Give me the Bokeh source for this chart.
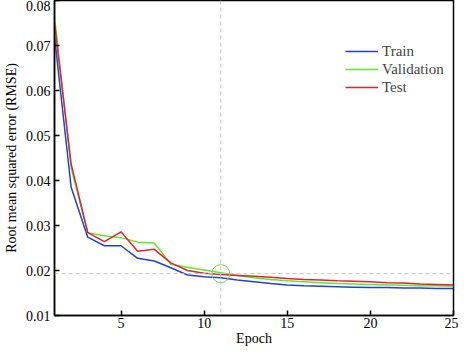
from bokeh.plotting import figure
from bokeh.models import Span, Legend, LegendItem, FixedTicker, Range1d
from bokeh.embed import file_html
from bokeh.resources import INLINE

epochs = list(range(1, 26))
train = [0.0720, 0.0385, 0.0274, 0.0255, 0.0255, 0.0227, 0.0221, 0.0206, 0.0190, 0.0186,
         0.0184, 0.0179, 0.0175, 0.0171, 0.0168, 0.0166, 0.0165, 0.0164, 0.0163, 0.0162,
         0.0162, 0.0161, 0.0161, 0.0160, 0.0160]
validation = [0.0765, 0.0428, 0.0284, 0.0277, 0.0273, 0.0263, 0.0261, 0.0214, 0.0207, 0.0201,
              0.0195, 0.0189, 0.0184, 0.0180, 0.0177, 0.0175, 0.0173, 0.0171, 0.0170, 0.0169,
              0.0168, 0.0167, 0.0166, 0.0166, 0.0165]
test = [0.0750, 0.0437, 0.0284, 0.0264, 0.0286, 0.0243, 0.0247, 0.0217, 0.0200, 0.0194,
        0.0191, 0.0189, 0.0187, 0.0185, 0.0182, 0.0180, 0.0179, 0.0177, 0.0176, 0.0175,
        0.0173, 0.0172, 0.0170, 0.0169, 0.0168]
best_epoch = 11
best_value = 0.0193
x_ticks = [5, 10, 15, 20, 25]
y_ticks = [0.01, 0.02, 0.03, 0.04, 0.05, 0.06, 0.07, 0.08]
y_tick_labels = ["0.01", "0.02", "0.03", "0.04", "0.05", "0.06", "0.07", "0.08"]
x_title = "Epoch"
y_title = "Root mean squared error (RMSE)"

FONT = "Liberation Serif"

p = figure(width=458, height=348, output_backend="svg", toolbar_location=None,
           x_range=Range1d(1, 25), y_range=Range1d(0.01, 0.08),
           min_border_left=43, min_border_right=5, min_border_top=0, min_border_bottom=0)
p.grid.visible = False
p.outline_line_color = "black"
p.outline_line_width = 1.5
p.background_fill_color = "white"
p.border_fill_color = "white"

for ax in (p.xaxis[0], p.yaxis[0]):
    ax.major_tick_in = 5
    ax.major_tick_out = 0
    ax.minor_tick_line_color = None
    ax.axis_line_color = "black"
    ax.axis_line_width = 1.5
    ax.major_tick_line_width = 1.5
    ax.major_label_text_font = FONT
    ax.major_label_text_font_size = "14px"
    ax.major_label_text_color = "black"
    ax.major_label_text_line_height = 1.0
    ax.axis_label_text_font = FONT
    ax.axis_label_text_font_size = "14px"
    ax.axis_label_text_font_style = "normal"
    ax.axis_label_text_color = "black"
    ax.axis_label_text_line_height = 1.0

p.xaxis.ticker = FixedTicker(ticks=x_ticks)
p.xaxis.axis_label = x_title
p.xaxis.major_label_standoff = 2
p.xaxis.axis_label_standoff = 0
p.yaxis.ticker = FixedTicker(ticks=y_ticks)
p.yaxis.major_label_overrides = {t: s for t, s in zip(y_ticks, y_tick_labels)}
p.yaxis.axis_label = y_title
p.yaxis.major_label_standoff = 4
p.yaxis.axis_label_standoff = 4

p.add_layout(Span(location=best_epoch, dimension="height", line_color="#c4c4c4",
                  line_dash="4 3", line_width=1))
p.add_layout(Span(location=best_value, dimension="width", line_color="#c4c4c4",
                  line_dash="4 3", line_width=1))

r1 = p.line(epochs, train, line_color="#2141d8", line_width=1.5)
r2 = p.line(epochs, validation, line_color="#5fe82c", line_width=1.5)
r3 = p.line(epochs, test, line_color="#e2232f", line_width=1.5)

p.scatter([best_epoch], [best_value], size=18, fill_color=None,
          line_color="#6de03a", line_width=1)

legend = Legend(items=[LegendItem(label="Train", renderers=[r1]),
                       LegendItem(label="Validation", renderers=[r2]),
                       LegendItem(label="Test", renderers=[r3])],
                location=(291, 219))
legend.border_line_color = None
legend.background_fill_alpha = 0
legend.padding = 0
legend.margin = 0
legend.spacing = 0
legend.label_height = 18
legend.glyph_height = 18
legend.glyph_width = 33
legend.label_standoff = 4
legend.label_text_font = FONT
legend.label_text_font_size = "15px"
p.add_layout(legend)

open("out.html", "w").write(file_html(p, INLINE))
